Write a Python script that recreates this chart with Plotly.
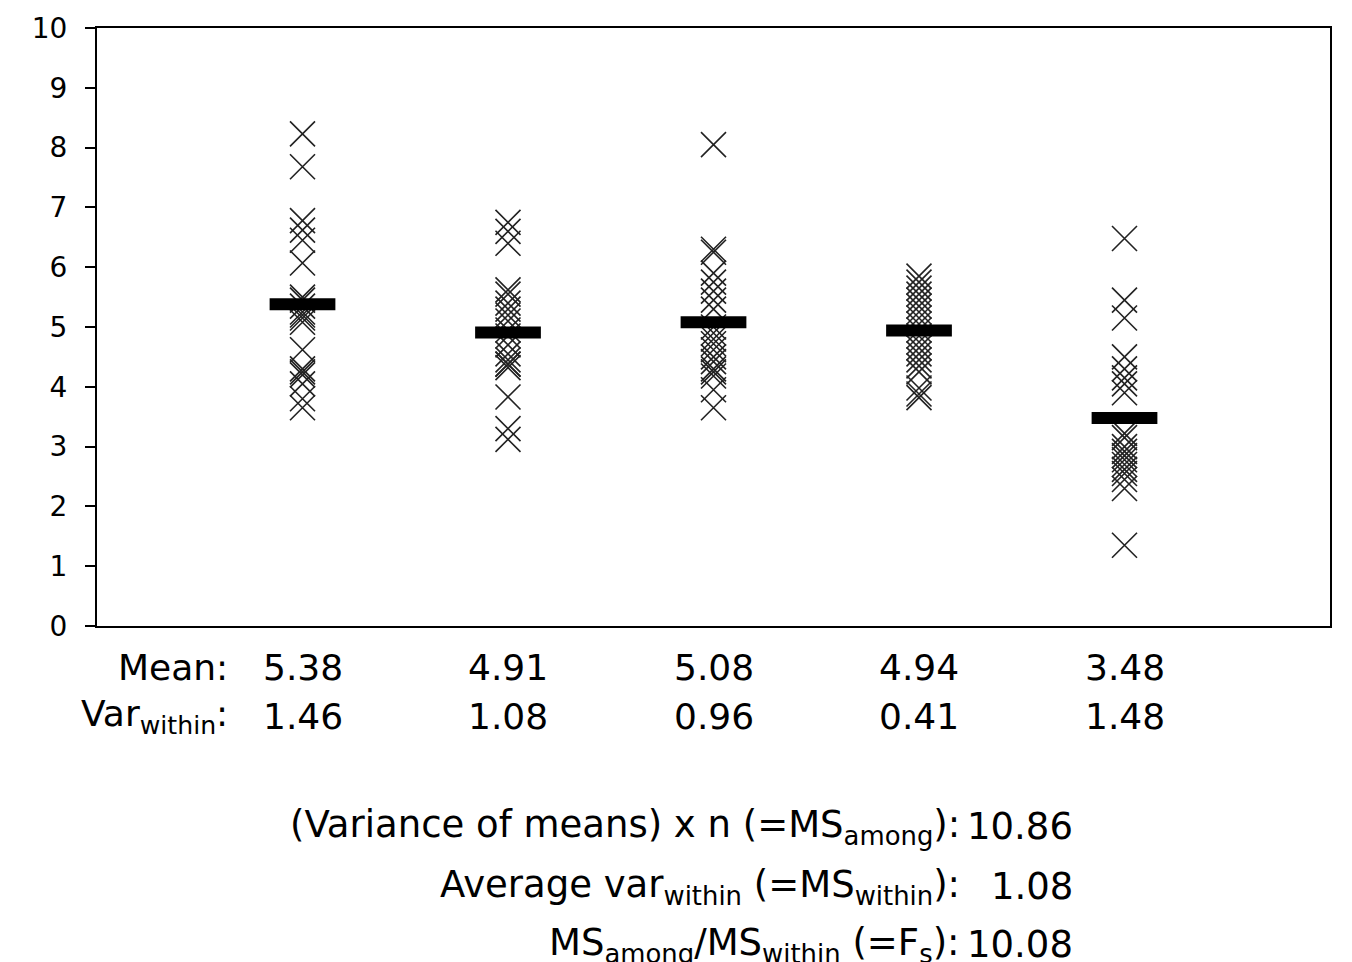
import plotly.graph_objects as go

# ---- data ----
group_x = [1, 2, 3, 4, 5]
g1 = [8.23, 7.68, 6.78, 6.62, 6.45, 6.07, 5.5, 5.45, 5.35, 5.25, 5.2, 5.15, 5.08, 4.62, 4.3, 4.25, 4.2, 4.05, 3.8, 3.65]
g2 = [6.75, 6.6, 6.4, 5.62, 5.55, 5.4, 5.3, 5.2, 5.1, 4.95, 4.85, 4.7, 4.55, 4.45, 4.38, 4.32, 3.83, 3.3, 3.12, 4.38]
g3 = [8.05, 6.3, 6.25, 5.9, 5.75, 5.6, 5.45, 5.3, 5.0, 4.9, 4.8, 4.72, 4.62, 4.5, 4.42, 4.3, 4.25, 4.18, 3.95, 3.65]
g4 = [5.85, 5.75, 5.65, 5.55, 5.45, 5.35, 5.25, 5.15, 5.05, 4.95, 4.85, 4.75, 4.65, 4.55, 4.45, 4.35, 4.25, 3.98, 3.88, 3.82]
g5 = [6.48, 5.45, 5.15, 4.5, 4.3, 4.15, 4.05, 3.9, 3.22, 3.15, 3.0, 2.92, 2.85, 2.78, 2.7, 2.62, 2.55, 2.45, 2.3, 1.35]
groups = [g1, g2, g3, g4, g5]
means = [5.38, 4.91, 5.08, 4.94, 3.48]
var_within = [1.46, 1.08, 0.96, 0.41, 1.48]
ms_among = 10.86
ms_within = 1.08
fs = 10.08
y_ticks = list(range(0, 11))

FONT = "DejaVu Sans"
TXT = 36
TXT2 = 37
fig = go.Figure()

for gx, vals in zip(group_x, groups):
    fig.add_trace(go.Scatter(
        x=[gx] * len(vals), y=vals, mode="markers",
        marker=dict(symbol="x-thin", size=25, color="#222",
                    line=dict(width=1.6, color="#222")),
        showlegend=False, hoverinfo="y"))

half_w = 0.16
for gx, m in zip(group_x, means):
    fig.add_trace(go.Scatter(
        x=[gx - half_w, gx + half_w], y=[m, m], mode="lines",
        line=dict(color="black", width=12), showlegend=False, hoverinfo="y"))

ann = []
row1_y = -0.07
row2_y = -0.152
ann.append(dict(x=0.645, y=row1_y, xref="x", yref="paper", text="Mean:",
                showarrow=False, xanchor="right", yanchor="middle",
                font=dict(size=TXT, family=FONT, color="black")))
ann.append(dict(x=0.645, y=row2_y, xref="x", yref="paper", text="Var<sub>within</sub>:",
                showarrow=False, xanchor="right", yanchor="middle",
                font=dict(size=TXT, family=FONT, color="black")))
for gx, m, v in zip(group_x, means, var_within):
    ann.append(dict(x=gx, y=row1_y, xref="x", yref="paper", text=f"{m:.2f}",
                    showarrow=False, xanchor="center", yanchor="middle",
                    font=dict(size=TXT, family=FONT, color="black")))
    ann.append(dict(x=gx, y=row2_y, xref="x", yref="paper", text=f"{v:.2f}",
                    showarrow=False, xanchor="center", yanchor="middle",
                    font=dict(size=TXT, family=FONT, color="black")))

summary = [
    ("(Variance of means) x n (=MS<sub>among</sub>):", ms_among, -0.336),
    ("Average var<sub>within</sub> (=MS<sub>within</sub>):", ms_within, -0.436),
    ("MS<sub>among</sub>/MS<sub>within</sub> (=F<sub>s</sub>):", fs, -0.533),
]
for label, val, yy in summary:
    ann.append(dict(x=4.21, y=yy, xref="x", yref="paper", text=label,
                    showarrow=False, xanchor="right", yanchor="middle",
                    font=dict(size=TXT2, family=FONT, color="black")))
    ann.append(dict(x=4.76, y=yy, xref="x", yref="paper", text=f"{val:.2f}",
                    showarrow=False, xanchor="right", yanchor="middle",
                    font=dict(size=TXT2, family=FONT, color="black")))

fig.update_layout(
    width=1352, height=962,
    margin=dict(l=89, r=30, t=20, b=344, autoexpand=False),
    paper_bgcolor="white", plot_bgcolor="white",
    annotations=ann,
    xaxis=dict(range=[0, 6], showgrid=False, zeroline=False, showticklabels=False,
               ticks="", showline=True, linecolor="black", linewidth=2, mirror=True,
               automargin=False),
    yaxis=dict(range=[0, 10], tickvals=y_ticks, ticktext=[str(t) for t in y_ticks],
               showgrid=False, zeroline=False, ticks="outside", ticklen=10,
               tickwidth=2, tickcolor="black", showline=True, linecolor="black",
               linewidth=2, mirror=True, ticklabelstandoff=12, automargin=False,
               tickfont=dict(size=28, family=FONT, color="black")),
)

fig.write_html("out.html")
